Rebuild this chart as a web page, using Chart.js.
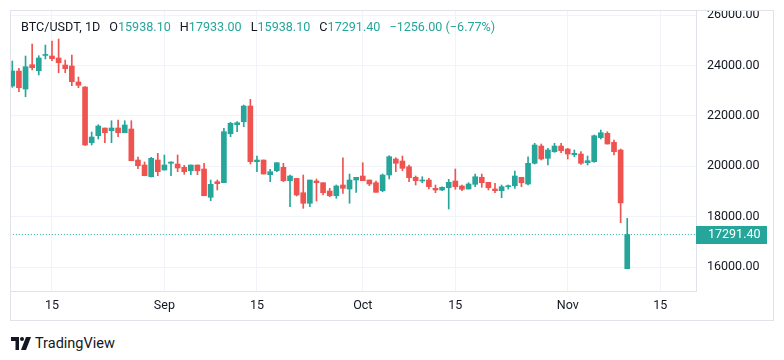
<!DOCTYPE html>
<html>
<head>
<meta charset="utf-8">
<script src="https://cdn.jsdelivr.net/npm/chart.js@4.4.0/dist/chart.umd.min.js"></script>
<style>
  body { margin: 0; width: 784px; height: 360px; background: #fff; position: relative; overflow: hidden; font-family: Roboto, sans-serif; }
  #frame { position: absolute; left: 10px; top: 10px; width: 762px; height: 309px; border: 1px solid #e0e3eb; }
  #legend { position: absolute; left: 21px; top: 19px; font-size: 12.6px; line-height: 16px; color: #131722; white-space: nowrap; z-index: 2; }
  #legend .k { margin-left: 9px; }
  #legend .v { color: #26a69a; }
  #brand { position: absolute; left: 11px; top: 335px; height: 16px; display: flex; align-items: center; }
  #brand span { margin-left: 4px; font-size: 14.5px; color: #131722; }
</style>
</head>
<body>
<div id="frame"><canvas id="chart"></canvas></div>
<div id="legend"><span>BTC/USDT, 1D</span><span class="k">O</span><span class="v" id="vO"></span><span class="k">H</span><span class="v" id="vH"></span><span class="k">L</span><span class="v" id="vL"></span><span class="k">C</span><span class="v" id="vC"></span><span class="k v" id="vChg"></span></div>
<div id="brand">
  <svg width="20" height="13" viewBox="0 0 20 13"><path d="M0 0H8V13H4.5V4H0Z" fill="#131722"/><circle cx="11" cy="2" r="2" fill="#131722"/><path d="M15 0H20L15 13H10Z" fill="#131722"/></svg>
  <span>TradingView</span>
</div>
<script>
// BTC/USDT daily candles, 9 Aug .. 10 Nov 2022
const firstOffset = -6; // 9 Aug, counted in days from 15 Aug

const opens = [
  23186, 23782, 23067, 24031, 23793, 24400, 24377, 24297, 24020, 23980, 23345, 23147, 20936, 21214, 21520, 21413, 21520, 21333, 21480, 20250, 20052, 19587, 20250,
  19853, 20120, 20091, 19960, 19825, 20052, 19893, 18770, 19389, 19349, 21294, 21651, 21770, 22393, 20183, 20250, 19667, 19825, 19960, 19429, 19524, 18952, 18532, 19417, 19349, 19020, 18833, 19258, 19099, 19456,
  19615, 19456, 19349, 19032, 19655, 20290, 20210, 19984, 19564, 19417, 19456, 19127, 19060, 19151, 19417, 19218, 19099, 19286, 19564, 19365, 19099, 19032, 19191, 19230, 19564, 19298, 20119, 20805, 20317, 20579, 20805,
  20686, 20460, 20488, 20143, 20183, 21135, 21309, 20952, 20647, 15938.1
];
const highs = [
  24178, 23889, 24377, 24853, 24389, 24813, 24972, 25051, 24218, 24416, 23543, 23160, 21361, 21651, 21520, 21809, 21837, 21809, 21809, 20369, 20171, 20357, 20516,
  20448, 20180, 20448, 20040, 20052, 20052, 20119, 19456, 19456, 21508, 21746, 21770, 22432, 22659, 20409, 20250, 19881, 20143, 20119, 19655, 19524, 19655, 19456, 19496, 19349, 19127, 19258, 20341, 19694, 19564,
  20143, 19456, 19417, 19694, 20421, 20341, 20409, 20052, 19615, 19587, 19524, 19258, 19190, 19484, 19893, 19258, 19350, 19694, 19694, 19365, 19325, 19258, 19258, 19813, 19564, 20381, 20913, 20885, 20714, 20913, 20913,
  20714, 20647, 20580, 20409, 21242, 21440, 21373, 21044, 20686, 17933
];
const lows = [
  23135, 22960, 22762, 23821, 23623, 24258, 24190, 23714, 23714, 23198, 23119, 20830, 20845, 21083, 20936, 20936, 21175, 21333, 20222, 19905, 19627, 19575, 19627,
  19853, 19627, 19786, 19683, 19667, 19667, 18833, 18635, 19060, 19349, 21175, 21373, 21571, 20091, 19786, 19694, 19389, 19786, 19389, 18397, 18822, 18333, 18397, 18623, 18861, 18794, 18730, 18929, 18532, 18968,
  19429, 19230, 18968, 18992, 19496, 19786, 19825, 19389, 19258, 19349, 19099, 18952, 19032, 18306, 19087, 19032, 19099, 19191, 19167, 19060, 18952, 18754, 19099, 19127, 19190, 19258, 20091, 20250, 20052, 20555, 20540,
  20290, 20381, 20079, 20052, 20159, 21083, 20885, 20448, 17762, 15938.1
];
const closes = [
  23782, 23119, 23952, 23912, 24297, 24430, 24270, 24111, 23873, 23357, 23214, 20845, 21163, 21599, 21333, 21520, 21333, 21639, 20222, 20024, 19627, 20317, 19786,
  20052, 20170, 19933, 19786, 20052, 19825, 18833, 19286, 19310, 21373, 21706, 21730, 22393, 20183, 20250, 19694, 19786, 20143, 19429, 19615, 18861, 18532, 19456, 19349, 18952, 18833, 19218, 19127, 19456, 19564,
  19429, 19298, 18968, 19655, 20381, 20119, 19921, 19548, 19429, 19456, 19191, 19060, 19167, 19365, 19191, 19087, 19298, 19587, 19349, 19151, 19032, 19191, 19230, 19615, 19349, 20119, 20845, 20290, 20647, 20805, 20619,
  20488, 20516, 20119, 20222, 21214, 21333, 20885, 20579, 18547.4, 17291.4
];

const tickDays = [0, 17, 31, 47, 61, 78, 92];
const tickLabels = ['15', 'Sep', '15', 'Oct', '15', 'Nov', '15'];
const priceTicks = [16000, 18000, 20000, 22000, 24000, 26000];

const up = '#26a69a';
const down = '#ef5350';
const axisFont = { family: 'Roboto', size: 12.5 };

const days = opens.map((_, i) => firstOffset + i);
const colors = opens.map((o, i) => closes[i] >= o ? up : down);
const last = closes.length - 1;

// legend values
const fmt = v => v.toFixed(2).replace('-', '\u2212');
const chg = closes[last] - closes[last - 1];
document.getElementById('vO').textContent = fmt(opens[last]);
document.getElementById('vH').textContent = fmt(highs[last]);
document.getElementById('vL').textContent = fmt(lows[last]);
document.getElementById('vC').textContent = fmt(closes[last]);
document.getElementById('vChg').textContent = fmt(chg) + ' (' + fmt(chg / closes[last - 1] * 100) + '%)';

const lastPriceTag = {
  id: 'lastPriceTag',
  afterDraw(chart) {
    const { ctx, chartArea } = chart;
    const py = chart.scales.y.getPixelForValue(closes[last]);
    ctx.save();
    ctx.fillStyle = up;
    ctx.fillRect(chartArea.right, Math.round(py) - 9, 71, 18);
    ctx.fillStyle = '#fff';
    ctx.font = '12.5px Roboto';
    ctx.textBaseline = 'middle';
    ctx.fillText(closes[last].toFixed(2), chartArea.right + 12, py + 0.5);
    ctx.restore();
  }
};

// keep the plot flush with the frame: no room kept for half labels
const noPad = s => { s.paddingTop = 0; s.paddingBottom = 0; s.paddingLeft = 0; s.paddingRight = 0; };

new Chart(document.getElementById('chart'), {
  type: 'bar',
  data: {
    datasets: [
      {
        type: 'line',
        data: [{ x: -10, y: closes[last] }, { x: 110, y: closes[last] }],
        borderColor: up,
        borderWidth: 1,
        borderDash: [1, 2],
        pointRadius: 0,
        order: 0
      },
      {
        data: days.map((d, i) => ({ x: d, y: [opens[i], closes[i]] })),
        backgroundColor: colors,
        barThickness: 5,
        minBarLength: 1,
        grouped: false,
        order: 1
      },
      {
        data: days.map((d, i) => ({ x: d, y: [lows[i], highs[i]] })),
        backgroundColor: colors,
        barThickness: 1,
        grouped: false,
        order: 2
      }
    ]
  },
  options: {
    responsive: true,
    maintainAspectRatio: false,
    animation: false,
    layout: { padding: 0 },
    plugins: { legend: { display: false }, tooltip: { enabled: false } },
    scales: {
      x: {
        type: 'linear',
        min: -6.2,
        max: 97.4,
        offset: false,
        afterFit: s => { s.height = 29; noPad(s); },
        afterBuildTicks: s => { s.ticks = tickDays.map(v => ({ value: v })); },
        ticks: {
          autoSkip: false,
          maxRotation: 0,
          padding: 7,
          color: '#131722',
          font: axisFont,
          callback: v => tickLabels[tickDays.indexOf(v)]
        },
        grid: { color: '#f0f3fa', drawTicks: false, offset: false },
        border: { color: '#e0e3eb' }
      },
      y: {
        position: 'right',
        min: 15052,
        max: 26163,
        afterFit: s => { s.width = 77; noPad(s); },
        afterBuildTicks: s => { s.ticks = priceTicks.map(v => ({ value: v })); },
        ticks: {
          padding: 11,
          color: '#131722',
          font: axisFont,
          callback: v => v.toFixed(2)
        },
        grid: { color: '#f0f3fa', drawTicks: false },
        border: { color: '#e0e3eb' }
      }
    }
  },
  plugins: [lastPriceTag]
});
</script>
</body>
</html>
